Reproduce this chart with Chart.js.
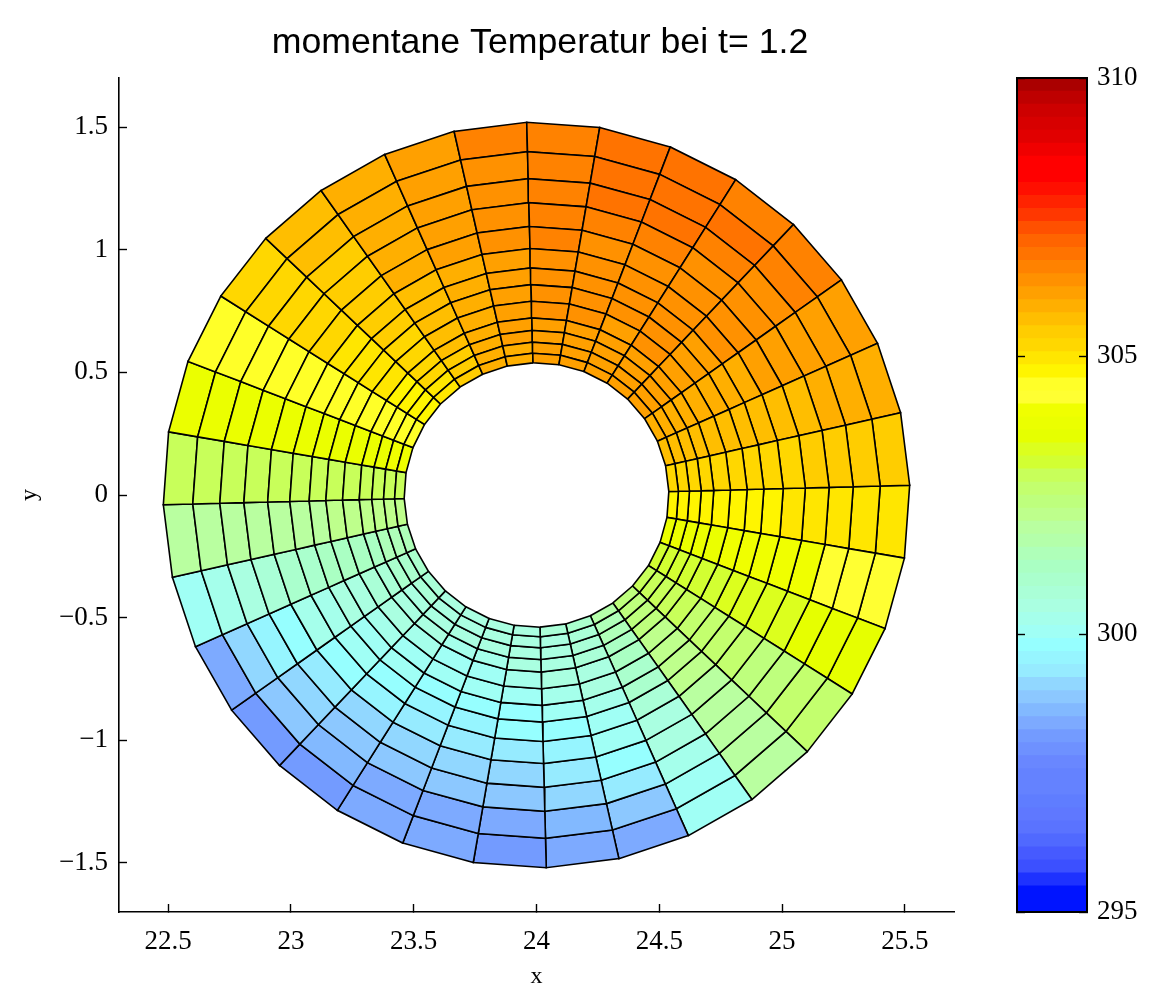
<!DOCTYPE html>
<html><head><meta charset="utf-8">
<script src="https://cdn.jsdelivr.net/npm/chart.js@4"></script>
<style>html,body{margin:0;padding:0;background:#fff;overflow:hidden}canvas{position:absolute;top:0}</style>
</head><body>
<canvas id="main" width="1000" height="1000" style="left:0"></canvas>
<canvas id="bar" width="153" height="1000" style="left:1000px"></canvas>
<script>
const titleText = 'momentane Temperatur bei t= 1.2';
const xTicks = [22.5,23,23.5,24,24.5,25,25.5];
const yTicks = [-1.5,-1,-0.5,0,0.5,1,1.5];
const barTicks = [295,300,305,310];
const centerX = 24;
const radii = [0.539,0.578,0.623,0.671,0.722,0.790,0.858,0.926,1.005,1.095,1.192,1.290,1.400,1.520];
const spokes = [1.5,12.75,24,35.25,46.5,57.75,69,80.25,91.5,102.75,114,125.25,136.5,147.75,159,170.25,181.5,192.75,204,215.25,226.5,237.75,249,260.25,271.5,282.75,294,305.25,316.5,327.75,339,350.25];
// temperature per sector (rows, counter-clockwise from the first spoke) and ring (columns, inner to outer)
const temps = [
[305.2,305.2,305.2,305.2,305.2,305.3,305.3,305.3,305.3,305.4,305.4,305.4,305.5],
[305.6,305.6,305.6,305.6,305.6,305.6,305.7,305.7,305.7,305.7,305.8,305.8,305.8],
[305.9,305.9,305.9,305.9,305.9,306.0,306.0,306.0,306.1,306.1,306.2,306.2,306.2],
[306.1,306.1,306.1,306.1,306.1,306.2,306.2,306.3,306.3,306.4,306.4,306.5,306.5],
[306.2,306.2,306.2,306.2,306.3,306.3,306.3,306.4,306.4,306.4,306.7,306.85,306.6],
[306.1,306.1,306.2,306.2,306.2,306.3,306.3,306.4,306.4,306.5,306.85,306.85,306.85],
[306.2,306.2,306.2,306.2,306.3,306.3,306.3,306.4,306.4,306.5,306.85,306.85,306.85],
[306.2,306.2,306.2,306.2,306.3,306.3,306.4,306.4,306.5,306.5,306.6,306.7,306.7],
[306.0,306.0,306.1,306.1,306.1,306.2,306.2,306.2,306.3,306.3,306.4,306.4,306.5],
[305.8,305.8,305.9,305.9,305.9,306.0,306.0,306.0,306.1,306.1,306.1,306.1,306.1],
[305.5,305.5,305.5,305.6,305.6,305.7,305.7,305.7,305.8,305.8,305.9,305.9,305.9],
[305.0,305.0,305.1,305.1,305.2,305.3,305.4,305.4,305.5,305.5,305.5,305.6,305.6],
[304.7,304.7,304.8,304.8,304.9,304.9,305.0,305.0,305.1,305.1,305.2,305.2,305.2],
[304.5,304.5,304.5,304.5,304.5,304.5,304.5,304.5,304.5,304.5,304.4,304.4,304.4],
[304.0,304.0,303.9,303.9,303.9,303.9,303.8,303.8,303.8,303.8,303.7,303.7,303.7],
[302.9,302.9,302.9,302.9,302.9,302.9,302.9,302.9,302.9,302.9,302.8,302.8,302.8],
[302.2,302.2,302.2,302.1,302.1,302.1,302.0,302.0,302.0,301.9,301.9,301.8,301.8],
[301.4,301.4,301.4,301.3,301.3,301.2,301.1,301.0,300.9,300.7,300.5,300.3,300.0],
[300.9,300.9,300.9,300.8,300.7,300.6,300.5,300.3,300.2,299.9,299.6,299.2,298.4],
[300.7,300.7,300.6,300.5,300.4,300.3,300.1,300.0,299.75,299.4,299.1,298.8,298.2],
[300.6,300.5,300.5,300.4,300.2,300.1,300.0,299.8,299.5,299.2,298.9,298.6,298.2],
[300.5,300.5,300.4,300.3,300.1,300.0,299.85,299.6,299.35,299.05,298.8,298.5,298.3],
[300.5,300.4,300.4,300.3,300.1,300.0,299.8,299.6,299.3,299.0,298.8,298.5,298.3],
[300.6,300.5,300.5,300.4,300.3,300.1,299.9,299.7,299.4,299.1,298.8,298.5,298.2],
[300.7,300.6,300.6,300.5,300.4,300.2,300.0,299.8,299.6,299.3,299.0,298.7,298.3],
[300.9,300.8,300.8,300.7,300.6,300.4,300.3,300.1,300.0,299.7,299.4,298.9,298.3],
[301.6,301.5,301.4,301.3,301.2,301.0,300.9,300.7,300.5,300.4,300.3,300.1,300.0],
[302.4,302.4,302.3,302.3,302.2,302.2,302.1,302.1,302.0,302.0,301.9,301.9,301.9],
[302.9,302.9,302.8,302.8,302.8,302.7,302.7,302.6,302.6,302.5,302.5,302.6,302.6],
[303.0,303.0,303.1,303.1,303.2,303.2,303.3,303.3,303.4,303.4,303.5,303.5,303.6],
[303.8,303.8,303.8,303.9,303.9,304.0,304.0,304.1,304.1,304.1,304.2,304.2,304.2],
[304.7,304.7,304.7,304.7,304.8,304.8,304.8,304.8,304.9,304.9,304.9,305.0,305.0]
];
// colour bands of the colour bar, top (310) to bottom (295)
const bands = ['170,0,0','190,0,0','205,0,0','215,0,0','225,0,0','240,0,0','255,0,0','255,0,0','255,15,0','255,35,0','255,55,0','255,80,0','255,100,0','255,115,0','255,130,0','255,145,0','255,160,0','255,175,0','255,190,0','255,205,0','255,215,0','255,230,0','255,245,0','255,255,40','255,255,50','240,255,0','235,255,0','230,255,0','220,255,30','210,255,50','200,255,90','195,255,110','190,255,125','190,255,140','185,255,160','180,255,170','175,255,185','170,255,195','170,255,205','170,255,215','170,255,225','165,255,235','160,255,245','150,255,255','150,245,255','150,235,255','145,215,255','140,200,255','130,185,255','125,170,255','115,155,255','110,145,255','105,135,255','100,130,255','100,130,255','95,125,255','95,120,255','90,115,255','80,105,255','70,90,255','60,80,255','30,50,255','0,20,255','0,20,255'];
const tMin = 295, tMax = 310;

const colorOf = t => {
  const i = Math.max(0, Math.min(bands.length - 1, Math.floor((tMax - t) / (tMax - tMin) * bands.length)));
  return 'rgb(' + bands[i] + ')';
};
const node = (s, r) => {
  const a = spokes[s % spokes.length] * Math.PI / 180;
  return {x: centerX + radii[r] * Math.cos(a), y: radii[r] * Math.sin(a)};
};
const cells = [];
temps.forEach((row, s) => row.forEach((t, r) => {
  cells.push({
    data: [node(s, r), node(s + 1, r), node(s + 1, r + 1), node(s, r + 1), node(s, r)],
    showLine: true, fill: 'shape', tension: 0,
    backgroundColor: colorOf(t), borderColor: '#000', borderWidth: 1.6,
    pointRadius: 0, pointHoverRadius: 0, borderJoinStyle: 'miter'
  });
}));
const fmt = v => String(v).replace('-', '\u2212');
const serif = size => ({family: '"Liberation Serif"', size});
const inward = {display: true, drawOnChartArea: false, drawTicks: true, tickLength: -8, tickColor: '#000', tickWidth: 1.4, z: 1};
const edge = {display: true, color: '#000', width: 1.6, z: 1};
const barEdge = {display: true, color: '#000', width: 2, z: 1};

new Chart(document.getElementById('main'), {
  type: 'scatter',
  data: {datasets: cells},
  plugins: [{id: 'titleNudge', afterLayout: c => { c.titleBlock.left += 7; }}],
  options: {
    responsive: false, animation: false, devicePixelRatio: 1,
    layout: {padding: {top: 0, right: 46, left: 0, bottom: 0}},
    plugins: {
      legend: {display: false}, tooltip: {enabled: false},
      title: {display: true, text: titleText, fullSize: false, color: '#000',
        font: {family: '"Liberation Sans"', size: 35.7, weight: 'normal'},
        padding: {top: 21.6, bottom: 13.56}}
    },
    scales: {
      x: {type: 'linear', min: 22.3, max: 25.7, position: 'bottom',
        afterBuildTicks: s => { s.ticks = xTicks.map(value => ({value})); },
        afterFit: s => { s.height = 88; },
        ticks: {color: '#000', font: serif(27), padding: 22, maxRotation: 0, autoSkip: false, callback: fmt},
        grid: inward, border: edge,
        title: {display: true, text: 'x', color: '#000', font: serif(24), padding: {top: 0, bottom: 9}}},
      y: {type: 'linear', min: -1.7, max: 1.7, position: 'left',
        afterBuildTicks: s => { s.ticks = yTicks.map(value => ({value})); },
        afterFit: s => { s.width = 119; },
        ticks: {color: '#000', font: serif(27), padding: 19, autoSkip: false, callback: fmt},
        grid: inward, border: edge,
        title: {display: true, text: 'y', color: '#000', font: serif(24), padding: {top: 15, bottom: 0}}}
    }
  }
});

const barSets = bands.slice().reverse().map((c, i) => ({
  data: [[tMin, tMin + (i + 1) * (tMax - tMin) / bands.length]],
  backgroundColor: 'rgb(' + c + ')', borderWidth: 0, grouped: false,
  barPercentage: 1, categoryPercentage: 1
}));
const plain = {display: false};
new Chart(document.getElementById('bar'), {
  type: 'bar',
  data: {labels: [''], datasets: barSets},
  options: {
    responsive: false, animation: false, devicePixelRatio: 1,
    plugins: {legend: {display: false}, tooltip: {enabled: false}},
    scales: {
      x: {position: 'bottom', afterFit: s => { s.height = 88; }, ticks: plain, grid: {display: false}, border: barEdge},
      xTop: {type: 'linear', position: 'top', min: 0, max: 1, afterFit: s => { s.height = 78; }, ticks: plain, grid: {display: false}, border: barEdge},
      yLeft: {type: 'linear', position: 'left', min: tMin, max: tMax,
        afterBuildTicks: s => { s.ticks = barTicks.map(value => ({value})); },
        afterFit: s => { s.width = 17; },
        ticks: {display: false}, grid: inward, border: barEdge},
      y: {type: 'linear', position: 'right', min: tMin, max: tMax,
        afterBuildTicks: s => { s.ticks = barTicks.map(value => ({value})); },
        afterFit: s => { s.width = 66; },
        ticks: {color: '#000', font: serif(27), padding: 18, autoSkip: false},
        grid: inward, border: barEdge}
    }
  }
});
</script>
</body></html>
